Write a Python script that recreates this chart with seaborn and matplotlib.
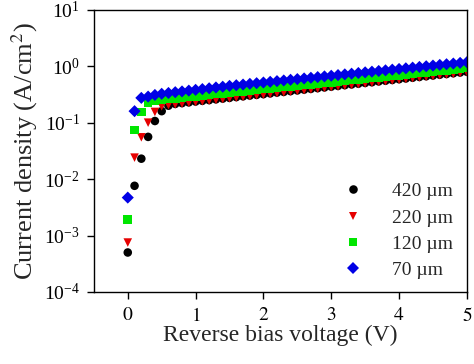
import numpy as np
import pandas as pd
import matplotlib
matplotlib.use("Agg")
import matplotlib.pyplot as plt
import seaborn as sns
from matplotlib.ticker import LogLocator, LogFormatterMathtext, FixedLocator, FixedFormatter

voltage = [round(0.1 * i, 1) for i in range(51)]

j_420 = [0.0005, 0.0076, 0.023, 0.056, 0.107, 0.16, 0.200,
         0.215, 0.222, 0.229, 0.237, 0.244, 0.251, 0.259, 0.267, 0.275,
         0.284, 0.293, 0.302, 0.311, 0.320, 0.330, 0.341, 0.351, 0.362,
         0.373, 0.385, 0.397, 0.409, 0.421, 0.435, 0.448, 0.462, 0.476,
         0.491, 0.506, 0.521, 0.538, 0.554, 0.571, 0.589, 0.607, 0.626,
         0.646, 0.665, 0.685, 0.707, 0.728, 0.751, 0.774, 0.798]
j_220 = [0.00075, 0.024, 0.055, 0.10, 0.155, 0.195, 0.205,
         0.211, 0.218, 0.225, 0.232, 0.239, 0.246, 0.254, 0.262, 0.270,
         0.278, 0.287, 0.296, 0.305, 0.314, 0.324, 0.334, 0.344, 0.355,
         0.366, 0.377, 0.389, 0.401, 0.413, 0.426, 0.439, 0.453, 0.467,
         0.481, 0.496, 0.511, 0.527, 0.543, 0.560, 0.577, 0.595, 0.614,
         0.633, 0.652, 0.672, 0.693, 0.714, 0.736, 0.759, 0.782]
j_120 = [0.0019, 0.074, 0.155, 0.23, 0.245,
         0.255, 0.262, 0.270, 0.278, 0.286, 0.294, 0.303, 0.312, 0.321,
         0.330, 0.340, 0.349, 0.360, 0.370, 0.381, 0.392, 0.403, 0.415,
         0.427, 0.439, 0.452, 0.465, 0.478, 0.492, 0.506, 0.521, 0.536,
         0.552, 0.568, 0.584, 0.601, 0.618, 0.636, 0.655, 0.674, 0.693,
         0.713, 0.734, 0.755, 0.777, 0.800, 0.823, 0.847, 0.871, 0.897, 0.923]
j_70 = [0.0047, 0.16, 0.275, 0.29, 0.31,
        0.325, 0.336, 0.347, 0.358, 0.370, 0.382, 0.394, 0.407, 0.421,
        0.434, 0.449, 0.461, 0.474, 0.488, 0.501, 0.515, 0.530, 0.545,
        0.560, 0.576, 0.592, 0.608, 0.625, 0.643, 0.661, 0.679, 0.698,
        0.718, 0.738, 0.759, 0.780, 0.802, 0.824, 0.847, 0.871, 0.895,
        0.920, 0.946, 0.973, 1.000, 1.028, 1.057, 1.086, 1.117, 1.148, 1.180]

labels = ["420 µm", "220 µm", "120 µm", "70 µm"]
series = [j_420, j_220, j_120, j_70]
colors = ["#000000", "#e60000", "#00e600", "#0000e6"]
markers = ["o", "v", "s", "D"]
x_ticks = [0, 1, 2, 3, 4, 5]

df = pd.concat([pd.DataFrame({"V": voltage, "J": s, "thickness": lab})
                for lab, s in zip(labels, series)], ignore_index=True)

sns.set_theme(style="ticks")
SERIF = ["Liberation Serif", "DejaVu Serif"]
plt.rcParams["font.family"] = SERIF
plt.rcParams["mathtext.fontset"] = "stix"

fig = plt.figure(figsize=(4.74, 3.64), dpi=100)
ax = fig.add_axes([0.198, 0.198, 0.787, 0.775])

sns.scatterplot(data=df, x="V", y="J", hue="thickness", style="thickness",
                hue_order=labels, style_order=labels,
                palette=dict(zip(labels, colors)),
                markers=dict(zip(labels, markers)),
                s=38, edgecolor="none", linewidth=0, ax=ax, legend=True)

ax.set_yscale("log")
ax.set_ylim(1e-4, 10)
ax.set_xlim(-0.5, 5)
ax.xaxis.set_major_locator(FixedLocator(x_ticks))
ax.xaxis.set_major_formatter(FixedFormatter([f"${t}$" for t in x_ticks]))
ax.yaxis.set_major_locator(LogLocator(base=10, numticks=10))
ax.yaxis.set_minor_locator(FixedLocator([]))
ax.yaxis.set_major_formatter(LogFormatterMathtext())

for sp in ax.spines.values():
    sp.set_visible(True)
    sp.set_color("black")
    sp.set_linewidth(1.0)
ax.tick_params(axis="both", direction="out", length=5, width=1,
               colors="black")
ax.tick_params(axis="x", labelsize=14, pad=6)
ax.tick_params(axis="y", labelsize=14, pad=5)

ax.set_xlabel("Reverse bias voltage (V)", fontsize=17, labelpad=0)
ax.set_ylabel("Current density (A/cm$^2$)", fontsize=19, labelpad=3)

leg = ax.legend(loc="lower right", bbox_to_anchor=(0.963, 0.045),
                frameon=False, handletextpad=1.0,
                labelspacing=0.45, borderpad=0, borderaxespad=0,
                markerscale=1.0, prop={"family": SERIF, "size": 14})

fig.savefig("out.png", dpi=100)
